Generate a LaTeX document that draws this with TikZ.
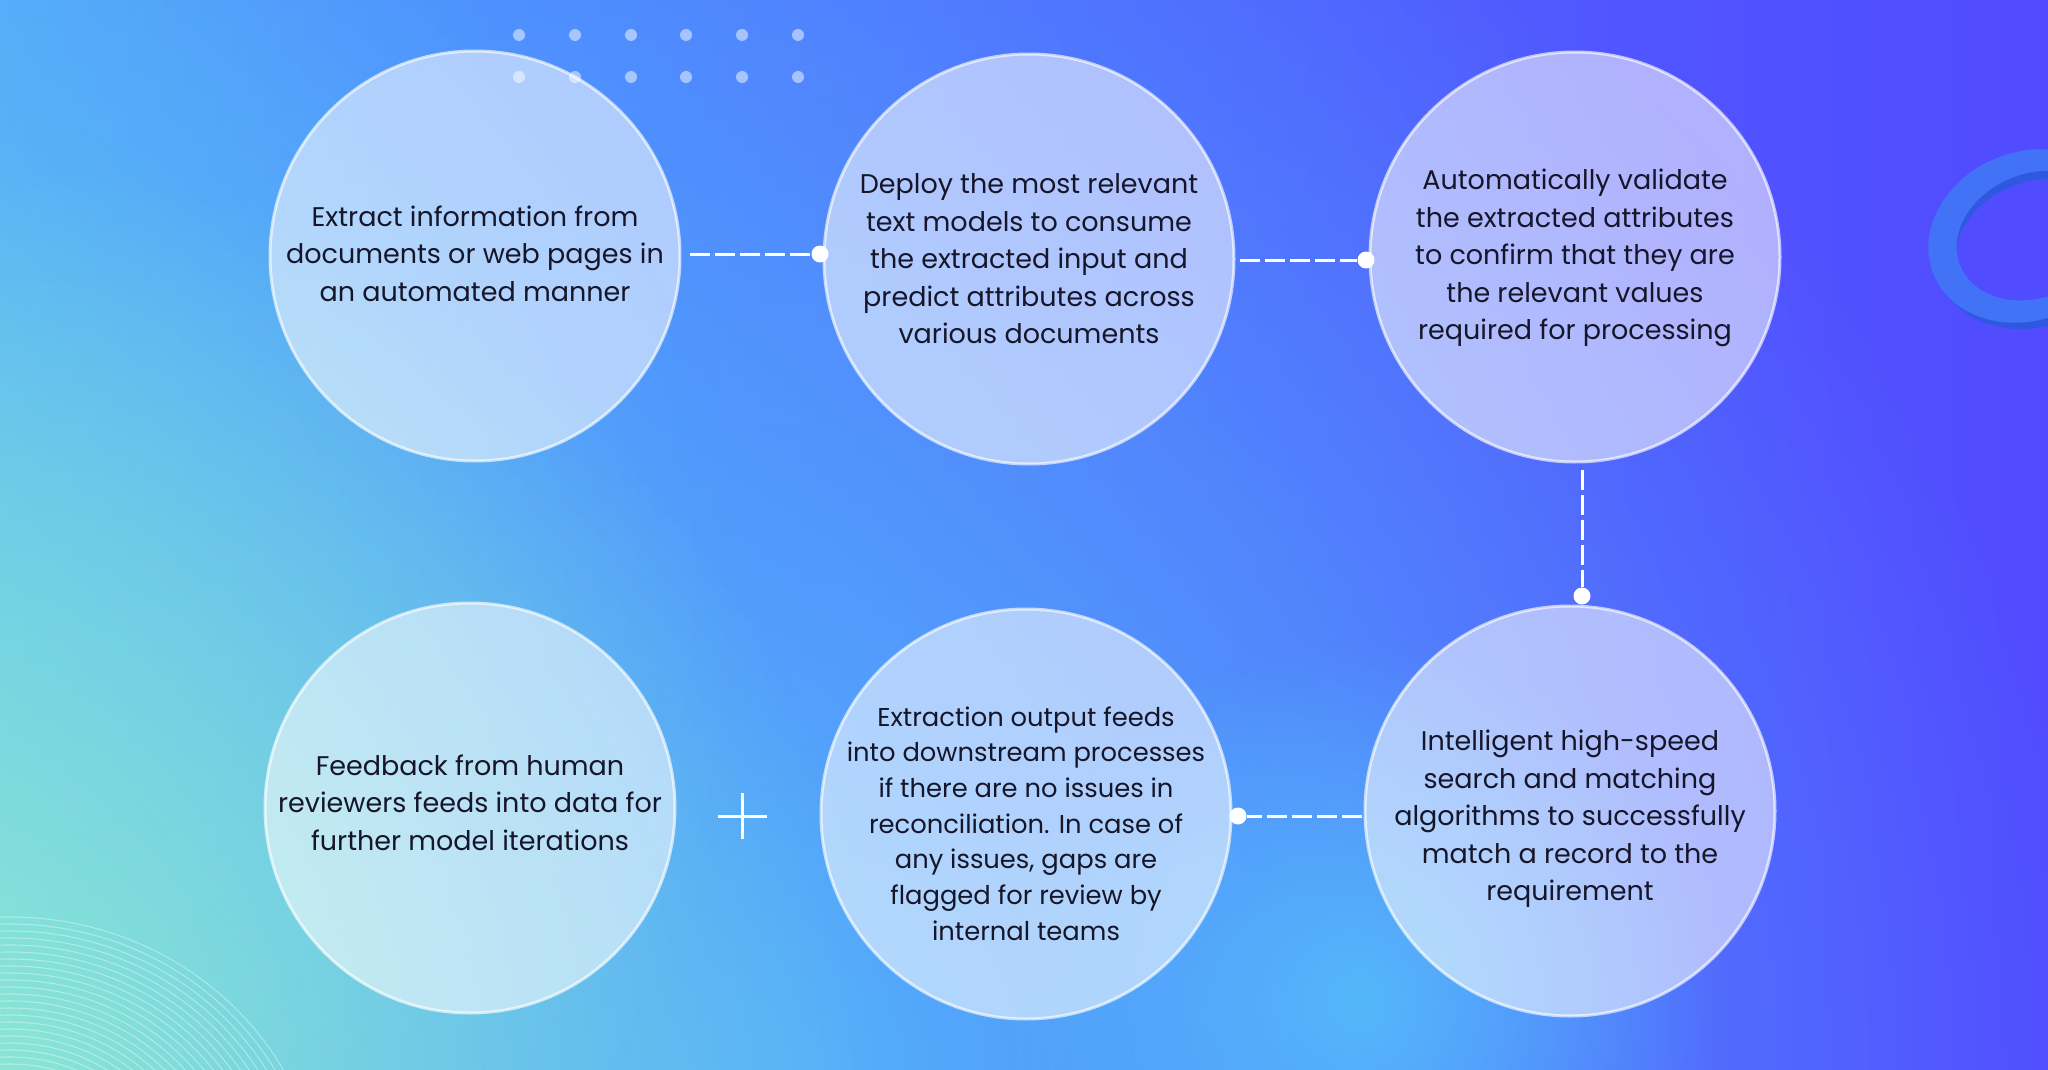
\documentclass[tikz,border=0pt]{standalone}
\usepackage{fontspec}
\setmainfont{Poppins}
\usetikzlibrary{fadings}
\definecolor{bgA}{HTML}{5AB2F4}
\definecolor{bgB}{HTML}{52B4FB}
\definecolor{bgC}{HTML}{4E90FF}
\definecolor{bgD}{HTML}{4F6EFF}
\definecolor{bgE}{HTML}{5055FF}
\definecolor{bgF}{HTML}{5533FF}
\definecolor{glowgreen}{HTML}{92EECF}
\definecolor{glowcyan}{HTML}{6ED0EA}
\definecolor{glowblue}{HTML}{55BCFA}
\definecolor{ringblue}{HTML}{4272F6}
\definecolor{ringside}{HTML}{2F58E0}
\definecolor{txt}{HTML}{16162A}
\pgfdeclarehorizontalshading{bgshade}{100bp}{color(0bp)=(bgA); color(20bp)=(bgB); color(35bp)=(bgC); color(50bp)=(bgD); color(65bp)=(bgE); color(100bp)=(bgF)}
\tikzfading[name=glowfade, inner color=transparent!0, outer color=transparent!100]
\newcommand{\steptext}[2]{\raisebox{#1}[\height][\depth]{\makebox[0pt]{\begin{tabular}{@{}c@{}}#2\end{tabular}}}}
\tikzset{
  stepcircle/.style={circle, minimum size=410pt, inner sep=0pt, fill=white, fill opacity=0.55,
    draw=white, draw opacity=0.65, line width=3pt, text opacity=1, text=txt,
    font=\fontsize{27}{37.5}\selectfont},
  conn/.style={draw=white, line width=3pt, dash pattern=on 20pt off 5pt},
  dotnode/.style={circle, fill=white, minimum size=17pt, inner sep=0pt},
  griddot/.style={fill=white, fill opacity=0.5},
  wave/.style={draw=white, draw opacity=0.36, line width=1.1pt}
}
\begin{document}
\begin{tikzpicture}[x=1pt,y=-1pt]
\useasboundingbox (0,0) rectangle (2048,1070);
\clip (0,0) rectangle (2048,1070);
% background
\shade[shading=bgshade] (0,0) rectangle (2048,1070);
\fill[glowblue, fill opacity=0.8, path fading=glowfade] (800,1070) circle (1300);
\fill[glowcyan, fill opacity=0.6, path fading=glowfade] (-150,650) circle (900);
\fill[glowgreen, fill opacity=0.95, path fading=glowfade] (-80,1130) circle (980);
\fill[glowblue, fill opacity=0.9, path fading=glowfade] (1360,1000) circle (360);
% concentric waves bottom-left
\foreach \r in {60,67,...,300} {
  \draw[wave] (10,1215) ellipse ({\r*1.05} and \r);
}
% ring top-right
\begin{scope}[shift={(2028,236)}, rotate=22]
  \fill[ringside, even odd rule] (3,8) ellipse (102 and 84) (3,8) ellipse (80 and 60);
  \fill[ringblue, even odd rule] (0,0) ellipse (102 and 84) (6,2) ellipse (80 and 62);
\end{scope}
% decorative dots
\foreach \x in {519,575,631,686,742,798} {
  \foreach \y in {35,77} {
    \fill[griddot] (\x,\y) circle (6);
  }
}
% plus sign
\draw[white, line width=3pt] (718,816) -- (767,816) (742,793) -- (742,839);
% circles
\node[stepcircle] (c1) at (475,256) {\steptext{0pt}{Extract information from\\documents or web pages in\\an automated manner}};
\node[stepcircle] (c2) at (1029,259) {\steptext{-2pt}{Deploy the most relevant\\text models to consume\\the extracted input and\\predict attributes across\\various documents}};
\node[stepcircle] (c3) at (1575,257) {\steptext{0pt}{Automatically validate\\the extracted attributes\\to confirm that they are\\the relevant values\\required for processing}};
\node[stepcircle] (c4) at (470,808) {\steptext{3pt}{Feedback from human\\reviewers feeds into data for\\further model iterations}};
\node[stepcircle, font=\fontsize{25.8}{35.7}\selectfont] (c5) at (1026,814) {\steptext{-12pt}{Extraction output feeds\\into downstream processes\\if there are no issues in\\reconciliation. In case of\\any issues, gaps are\\flagged for review by\\internal teams}};
\node[stepcircle] (c6) at (1570,811) {\steptext{-7pt}{Intelligent high-speed\\search and matching\\algorithms to successfully\\match a record to the\\requirement}};
% connector dots
\node[dotnode] (d1) at (820,254) {};
\node[dotnode] (d2) at (1366,260) {};
\node[dotnode] (d3) at (1582,596) {};
\node[dotnode] (d4) at (1238,816) {};
% connectors
\draw[conn] ([xshift=8pt]c1.east |- d1) -- (d1);
\draw[conn] ([xshift=4pt]c2.east |- d2) -- (d2);
\draw[conn] ([yshift=-6pt]c3.south -| d3) -- (d3);
\draw[conn] ([xshift=-2pt]c6.west |- d4) -- (d4);
\end{tikzpicture}
\end{document}
